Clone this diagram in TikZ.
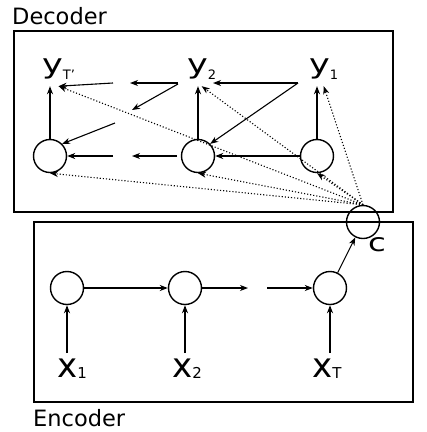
\documentclass[tikz,border=0pt]{standalone}
\usepackage{fontspec}
\setmainfont{DejaVu Sans}
\usepackage{tikz}
\usetikzlibrary{arrows.meta}
\newcommand{\ylab}[1]{\scalebox{1.3}[1]{y}\raisebox{-6pt}{\fontsize{13}{13}\selectfont #1}}
\newcommand{\xlab}[1]{x\raisebox{-1pt}{\fontsize{15}{15}\selectfont #1}}

\begin{document}
\begin{tikzpicture}[x=1pt, y=-1pt, >={Stealth[length=8pt,width=6pt,inset=2.5pt]},
				box/.style={draw, line width=2pt},
				cell/.style={circle, draw, line width=1.4pt, minimum size=33pt, inner sep=0pt},
				yword/.style={anchor=base west, inner sep=7pt, font=\fontsize{27}{27}\selectfont},
				xword/.style={anchor=base west, inner sep=5pt, font=\fontsize{34}{34}\selectfont},
				title/.style={anchor=west, inner sep=0pt, font=\fontsize{22.5}{22.5}\selectfont},
				link/.style={->, line width=1.8pt},
				thin/.style={->, line width=1.1pt},
				attn/.style={->, dotted, line width=1.1pt}]
	\useasboundingbox (0,0) rectangle (427,432);
	% boxes
	\draw[box] (14,31) rectangle (393,212);
	\draw[box] (34,222) rectangle (413,402);
	\node[title] (dec) at (12,16) {Decoder};
	\node[title] (enc) at (33,418) {Encoder};
	% decoder
	\node[yword] (yT) at (35,73) {\ylab{T'}};
	\node[yword] (y2) at (180,73) {\ylab{2}};
	\node[yword] (y1) at (302,73) {\ylab{1}};
	\node[cell] (dT) at (50,156) {};
	\node[cell] (d2) at (198,156) {};
	\node[cell] (d1) at (317,156) {};
	\coordinate (t1) at (298,83);
	\coordinate (t2) at (178,83);
	\coordinate (t3) at (130,83);
	\coordinate (t4) at (113,83);
	\coordinate (m1) at (178,84);
	\coordinate (m2) at (132,110);
	\coordinate (m3) at (115,123);
	\coordinate (b1) at (177,156);
	\coordinate (b2) at (132,156);
	\coordinate (b3) at (113,156);
	\draw[link] (dT) -- (dT |- yT.south);
	\draw[link] (d2) -- (d2 |- y2.south);
	\draw[link] (d1) -- (d1 |- y1.south);
	\draw[link] (t1) -- (213,83);
	\draw[thin] (t2) -- (t3);
	\draw[thin] (t4) -- (yT.south);
	\draw[thin] (t1) -- (d2.north east);
	\draw[thin] (m1) -- (m2);
	\draw[thin] (m3) -- (dT.north east);
	\draw[link] (d1) -- (d2);
	\draw[thin] (b1) -- (b2);
	\draw[thin] (b3) -- (dT);
	% context
	\node[cell] (c) at (363,222) {};
	\node[anchor=base west, inner sep=0pt, font=\fontsize{25}{25}\selectfont] (cl) at (368,251) {\scalebox{1.3}[1]{c}};
	\draw[attn] (c.north) -- (yT.south);
	\draw[attn] (c.north) -- (dT.south);
	\draw[attn] (c.north) -- (y2.south);
	\draw[attn] (c.north) -- (d2.south);
	\draw[attn] (c.north) -- (y1.south);
	\draw[attn] (c.north) -- (d1.south);
	% encoder
	\node[cell] (e1) at (67,288) {};
	\node[cell] (e2) at (185,288) {};
	\node[cell] (eT) at (330,288) {};
	\node[xword] (x1) at (52,377) {\xlab{1}};
	\node[xword] (x2) at (167,377) {\xlab{2}};
	\node[xword] (xT) at (307,377) {\xlab{T}};
	\coordinate (g1) at (248,288);
	\coordinate (g2) at (267,288);
	\draw[link] (e1) -- (e2);
	\draw[thin] (e2) -- (g1);
	\draw[thin] (g2) -- (eT);
	\draw[thin] (eT) -- (c);
	\draw[link] (x1.north -| e1) -- (e1);
	\draw[link] (x2.north -| e2) -- (e2);
	\draw[link] (xT.north -| eT) -- (eT);
\end{tikzpicture}
\end{document}
